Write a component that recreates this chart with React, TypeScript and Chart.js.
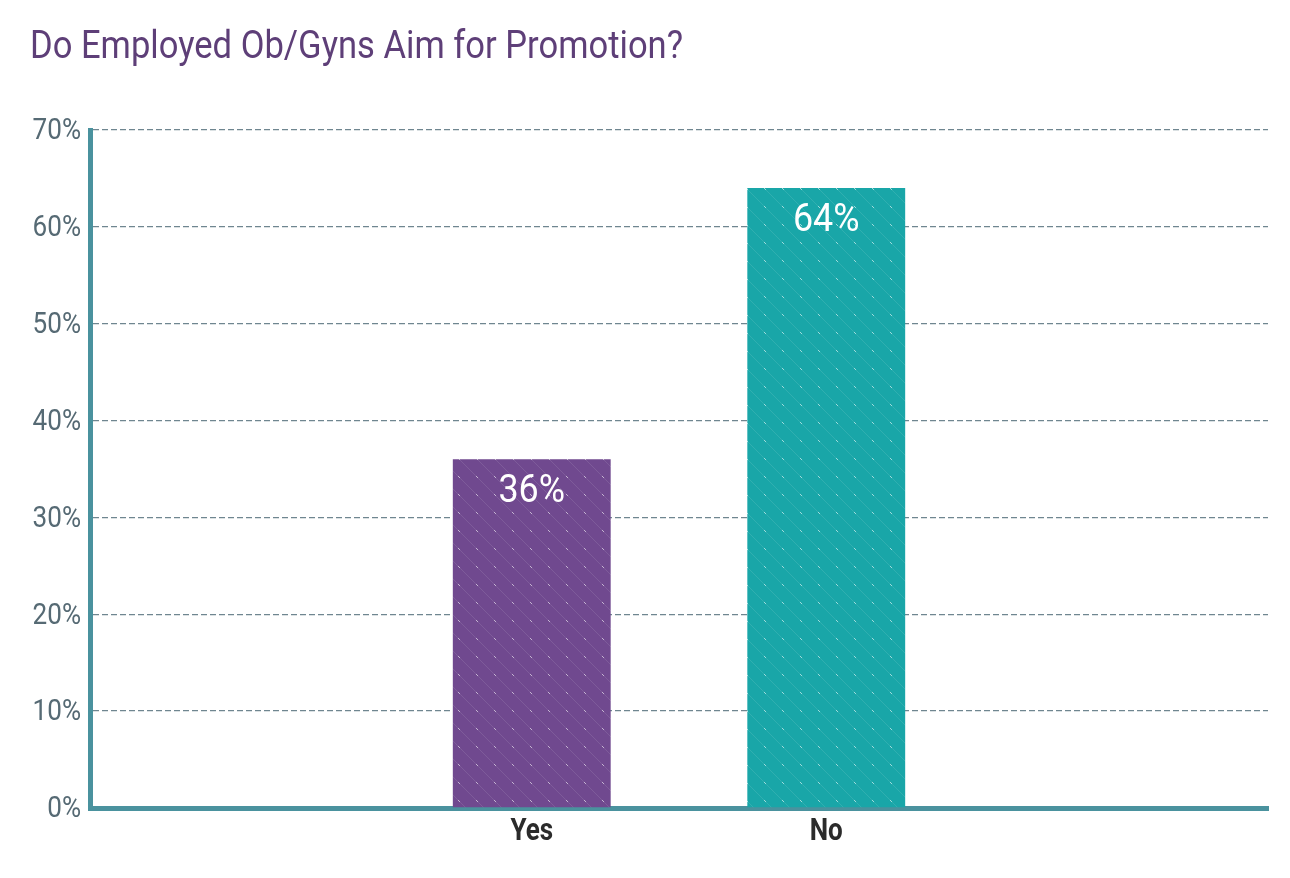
import { useEffect, useRef } from 'react';
import { Chart, registerables } from 'chart.js';

Chart.register(...registerables);

const title = 'Do Employed Ob/Gyns Aim for Promotion?';
const categories = ['', 'Yes', 'No', ''];
const shares = [null, 36, 64, null];
const barColors = ['#70498f', '#70498f', '#19a6a8', '#19a6a8'];
const yTicks = [0, 10, 20, 30, 40, 50, 60, 70];

// faint diagonal texture like the original bars
function makePattern(base: string) {
  const c = document.createElement('canvas');
  c.width = 18;
  c.height = 18;
  const g = c.getContext('2d')!;
  g.fillStyle = base;
  g.fillRect(0, 0, 18, 18);
  g.strokeStyle = 'rgba(255,255,255,0.10)';
  g.lineWidth = 1;
  g.beginPath();
  g.moveTo(-1, -1);
  g.lineTo(19, 19);
  g.stroke();
  g.strokeStyle = 'rgba(255,255,255,0.55)';
  g.beginPath();
  g.moveTo(8, 8);
  g.lineTo(10, 10);
  g.stroke();
  return g.createPattern(c, 'repeat')!;
}

// condensed text: no Roboto Condensed here, so squeeze Roboto horizontally
function narrowText(ctx: any, text: string, x: number, y: number, font: string, color: string, align: string, sx: number) {
  ctx.save();
  ctx.font = font;
  ctx.fillStyle = color;
  ctx.textBaseline = 'middle';
  ctx.textAlign = align;
  ctx.translate(x, y);
  ctx.scale(sx, 1);
  ctx.fillText(text, 0, 0);
  ctx.restore();
}

const labelsPlugin = {
  id: 'labelsPlugin',
  afterDraw(chart: any) {
    const ctx = chart.ctx;
    const { x, y } = chart.scales;

    // title
    ctx.save();
    ctx.font = '39px Roboto';
    const w = ctx.measureText(title).width;
    ctx.fillStyle = '#5e3f78';
    ctx.textBaseline = 'alphabetic';
    ctx.translate(30, 58);
    ctx.scale(653 / w, 1);
    ctx.fillText(title, 0, 0);
    ctx.restore();

    // y tick labels
    yTicks.forEach((v) => {
      narrowText(ctx, v + '%', 81, y.getPixelForValue(v) + 2, '29px Roboto', '#566a74', 'right', 0.9);
    });

    // x tick labels
    categories.forEach((c, i) => {
      if (!c) return;
      narrowText(ctx, c, x.getPixelForValue(i), 832, 'bold 31px Roboto', '#2b2b2b', 'center', 0.84);
    });

    // value labels
    const meta = chart.getDatasetMeta(0);
    meta.data.forEach((bar: any, i: number) => {
      const v = shares[i];
      if (v == null) return;
      narrowText(ctx, v + '%', bar.x, bar.y + 33, '39px Roboto', '#ffffff', 'center', 0.92);
    });
  },
};

export default function App() {
  const canvasRef = useRef<HTMLCanvasElement>(null);

  useEffect(() => {
    document.body.style.margin = '0';
    const chart = new Chart(canvasRef.current!, {
      type: 'bar',
      data: {
        labels: categories,
        datasets: [{
          data: shares,
          backgroundColor: barColors.map(makePattern),
          borderWidth: 0,
          categoryPercentage: 1,
          barPercentage: 0.536,
        }],
      },
      options: {
        responsive: false,
        animation: false,
        layout: { padding: { top: 130, right: 22, left: 0, bottom: 0 } },
        plugins: { legend: { display: false }, tooltip: { enabled: false } },
        scales: {
          x: {
            grid: { display: false, drawTicks: false },
            border: { color: '#4a929e', width: 5 },
            ticks: { display: false },
            afterFit: (s: any) => { s.height = 70; },
          },
          y: {
            min: 0,
            max: 70,
            afterBuildTicks: (s: any) => { s.ticks = yTicks.map((v) => ({ value: v })); },
            grid: {
              color: '#6f8690',
              lineWidth: 1.3,
              drawTicks: false,
            },
            border: { color: '#4a929e', width: 5, dash: [6, 3] },
            ticks: { display: false },
            afterFit: (s: any) => { s.width = 90; },
          },
        },
      },
      plugins: [labelsPlugin],
    });
    return () => chart.destroy();
  }, []);

  return (
    <div style={{ width: 1290, height: 878, background: '#fff' }}>
      <canvas ref={canvasRef} width={1290} height={878} style={{ display: 'block' }} />
    </div>
  );
}
